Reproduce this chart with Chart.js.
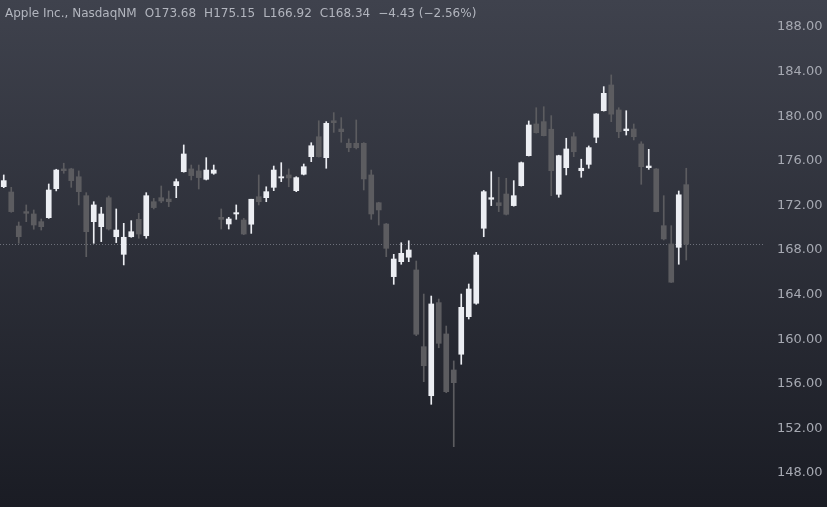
<!DOCTYPE html>
<html lang="en">
    <head>
        <meta charset="UTF-8">
        <title>AAPL candles</title>
        <script src="https://cdn.jsdelivr.net/npm/chart.js@4.4.1/dist/chart.umd.min.js"></script>
        <style>
            body { margin: 0; background: #1b1d25; }
            .wrap {
                position: relative;
                width: 827px;
                height: 507px;
                background: linear-gradient(#3f424d, #1a1c24);
            }
            .legend {
                position: absolute;
                left: 5px;
                top: 6px;
                font-family: "DejaVu Sans", sans-serif;
                font-size: 12px;
                color: #b2b5be;
                white-space: pre;
            }
            .legend span { margin-left: 8px; }
        </style>
    </head>
    <body>
        <script>
            // daily OHLC, oldest first
            let opens = [
                173.50, 173.02, 169.97, 171.26, 171.05, 170.36, 170.72, 173.32, 175.09, 175.09,
                174.39, 172.69, 170.36, 169.91, 172.51, 169.01, 167.43, 169.01, 170.57, 169.10,
                172.15, 172.51, 172.39, 173.59, 174.84, 175.09, 174.91, 174.16, 174.70, 170.75,
                170.15, 171.05, 170.51, 170.13, 172.60, 172.51, 173.44, 174.28, 174.55, 173.14,
                174.61, 176.19, 177.98, 176.10, 179.41, 178.67, 177.39, 177.39, 177.39, 174.55,
                172.06, 170.15, 165.43, 166.77, 167.17, 166.03, 159.15, 154.75, 163.10, 160.29,
                157.06, 158.47, 161.84, 163.04, 169.77, 172.37, 172.06, 172.84, 171.80, 173.59,
                176.28, 179.12, 179.33, 178.65, 172.81, 175.20, 177.98, 174.93, 175.50, 177.93,
                180.31, 182.62, 180.38, 178.52, 178.67, 177.33, 175.20, 175.09, 170.00, 168.36,
                168.06, 173.68
            ];
            let highs = [
                174.55, 173.44, 170.33, 171.86, 171.41, 170.60, 173.74, 175.06, 175.60, 175.15,
                174.91, 172.96, 172.15, 171.65, 172.66, 171.50, 170.21, 170.45, 171.11, 172.96,
                172.45, 173.56, 173.11, 174.19, 177.24, 175.44, 175.44, 176.10, 175.44, 171.50,
                170.75, 171.86, 170.66, 172.37, 174.55, 173.49, 175.35, 175.65, 175.09, 174.39,
                175.53, 177.44, 179.41, 179.33, 180.14, 179.69, 177.78, 179.48, 177.45, 174.99,
                172.10, 170.20, 167.43, 168.47, 168.65, 166.83, 163.87, 163.69, 163.42, 161.00,
                157.87, 163.87, 164.77, 167.61, 173.16, 174.84, 174.34, 174.25, 174.04, 175.71,
                179.39, 180.58, 180.67, 179.87, 176.32, 177.84, 178.34, 175.96, 177.15, 180.05,
                182.47, 183.52, 180.58, 180.31, 179.12, 177.53, 176.85, 175.12, 172.69, 170.00,
                173.11, 175.15
            ];
            let lows = [
                173.41, 171.20, 168.42, 170.36, 169.68, 169.61, 170.66, 173.12, 174.70, 173.44,
                171.86, 167.22, 168.42, 168.57, 169.61, 168.48, 166.48, 168.96, 168.87, 168.87,
                171.50, 172.06, 171.71, 172.51, 174.80, 174.10, 173.29, 174.10, 174.61, 169.70,
                169.70, 170.57, 169.19, 169.31, 171.86, 172.15, 173.14, 173.95, 173.49, 173.05,
                174.55, 175.74, 176.15, 175.15, 178.37, 177.48, 176.63, 176.88, 173.20, 170.57,
                170.06, 167.22, 164.74, 166.54, 166.77, 160.14, 156.01, 153.98, 159.05, 155.02,
                150.18, 157.57, 161.63, 162.95, 169.01, 171.80, 171.26, 170.96, 171.75, 173.55,
                176.25, 178.30, 178.05, 172.69, 172.55, 174.55, 176.19, 174.34, 175.15, 177.44,
                180.28, 179.33, 177.89, 178.13, 177.69, 173.71, 175.05, 171.24, 168.72, 164.90,
                166.54, 166.92
            ];
            let closes = [
                174.04, 171.26, 169.01, 171.11, 170.06, 169.91, 173.20, 174.99, 174.93, 174.04,
                173.05, 169.46, 171.86, 171.05, 169.70, 169.61, 168.96, 169.46, 169.25, 172.69,
                171.62, 172.21, 172.15, 173.95, 176.43, 174.49, 174.31, 174.99, 174.99, 170.57,
                170.60, 171.17, 169.25, 172.37, 172.15, 173.05, 174.99, 174.39, 174.28, 174.31,
                175.29, 177.17, 176.19, 179.18, 179.24, 178.43, 176.99, 176.99, 174.19, 171.05,
                171.41, 167.97, 167.01, 167.52, 167.82, 160.26, 157.44, 162.98, 159.45, 155.11,
                155.92, 162.68, 164.32, 167.37, 173.05, 172.51, 171.80, 171.02, 172.69, 175.65,
                179.03, 178.34, 178.07, 174.93, 176.28, 176.88, 176.63, 175.15, 177.00, 180.02,
                181.87, 180.00, 178.43, 178.67, 177.98, 175.29, 175.35, 171.26, 168.81, 164.93,
                172.77, 168.34
            ];
            let priceTicks = [148, 152, 156, 160, 164, 168, 172, 176, 180, 184, 188];

            let upColor = '#eceef3';
            let downColor = '#5c5c60';
        </script>

        <div class="wrap">
            <canvas id="candles" width="827" height="507"></canvas>
            <div class="legend" id="legend"></div>
        </div>

        <script>
            const last = opens.length - 1;
            const chg = closes[last] - closes[last - 1];
            const pct = chg / closes[last - 1] * 100;
            const signed = n => (n < 0 ? '\u2212' : '+') + Math.abs(n).toFixed(2);
            document.getElementById('legend').innerHTML =
                'Apple Inc., NasdaqNM' +
                '<span>O' + opens[last].toFixed(2) + '</span>' +
                '<span>H' + highs[last].toFixed(2) + '</span>' +
                '<span>L' + lows[last].toFixed(2) + '</span>' +
                '<span>C' + closes[last].toFixed(2) + '</span>' +
                '<span>' + signed(chg) + ' (' + signed(pct) + '%)</span>';

            let bodies = opens.map((o, i) => ({ x: i, y: [o, closes[i]] }));
            let wicks = lows.map((l, i) => ({ x: i, y: [l, highs[i]] }));
            let candleColor = c => closes[c.dataIndex] >= opens[c.dataIndex] ? upColor : downColor;

            // dotted line at the last close
            const lastPriceLine = {
                id: 'lastPriceLine',
                beforeDatasetsDraw(chart) {
                    let y = chart.scales.y.getPixelForValue(closes[last]);
                    let ctx = chart.ctx;
                    ctx.save();
                    ctx.strokeStyle = '#6d707a';
                    ctx.lineWidth = 1;
                    ctx.setLineDash([1, 2]);
                    ctx.beginPath();
                    ctx.moveTo(chart.chartArea.left, Math.round(y) + 0.5);
                    ctx.lineTo(chart.chartArea.right, Math.round(y) + 0.5);
                    ctx.stroke();
                    ctx.restore();
                }
            };

            let ctx = document.getElementById('candles').getContext('2d');
            let myChart = new Chart(ctx, {
                type: 'bar',
                data: {
                    datasets: [{
                        data: bodies,
                        backgroundColor: candleColor,
                        barThickness: 5,
                        minBarLength: 1,
                        grouped: false,
                        order: 0
                    }, {
                        data: wicks,
                        backgroundColor: candleColor,
                        barThickness: 1,
                        grouped: false,
                        order: 1
                    }]
                },
                options: {
                    responsive: false,
                    animation: false,
                    layout: { padding: 0 },
                    scales: {
                        x: {
                            type: 'linear',
                            display: false,
                            offset: false,
                            min: -0.5,
                            max: 101.5
                        },
                        y: {
                            position: 'right',
                            min: 144.77,
                            max: 190.24,
                            grid: { display: false },
                            border: { display: false },
                            afterBuildTicks: scale => {
                                scale.ticks = priceTicks.map(v => ({ value: v }));
                            },
                            afterFit: scale => {
                                scale.width = 62;
                                scale.paddingTop = 0;
                                scale.paddingBottom = 0;
                            },
                            ticks: {
                                padding: 4,
                                labelOffset: 2,
                                color: '#a6a9b2',
                                font: { family: 'DejaVu Sans', size: 13 },
                                callback: v => v.toFixed(2)
                            }
                        }
                    },
                    plugins: {
                        legend: { display: false },
                        title: { display: false },
                        tooltip: { enabled: false }
                    }
                },
                plugins: [lastPriceLine]
            });
        </script>
    </body>
</html>
